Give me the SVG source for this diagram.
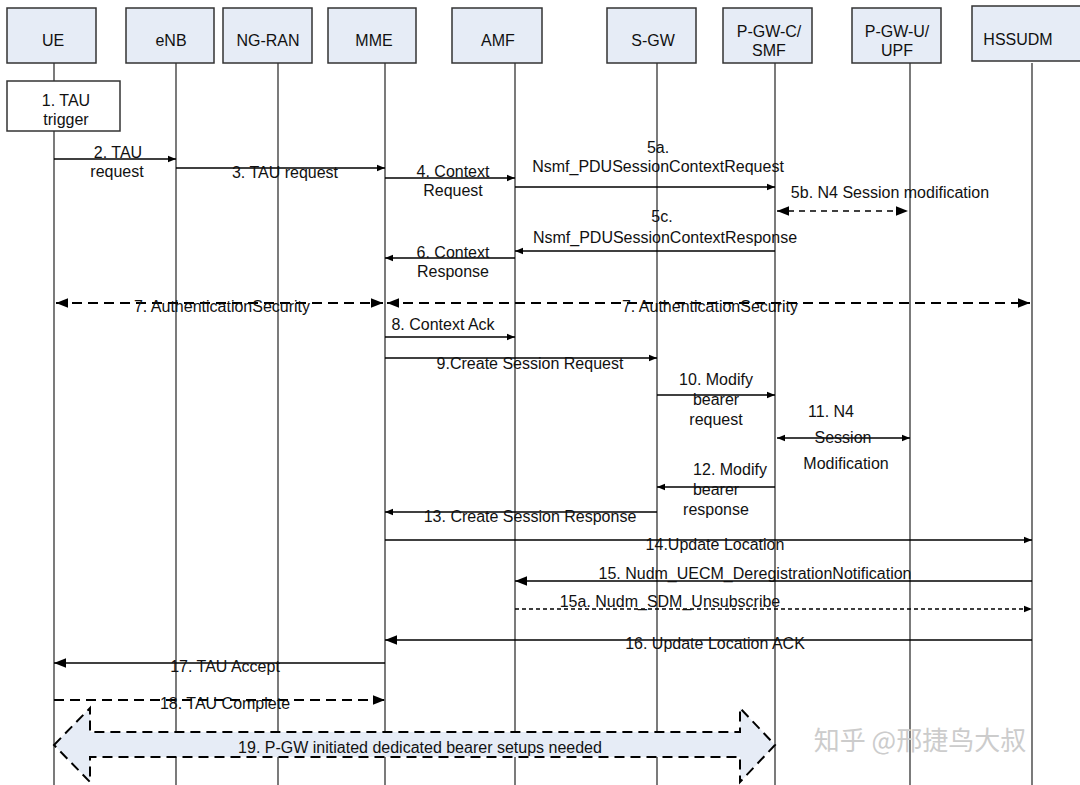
<svg xmlns="http://www.w3.org/2000/svg" width="1080" height="785" viewBox="0 0 1080 785">
<defs>
<marker id="a" viewBox="0 0 10 10" refX="10" refY="5" markerWidth="8" markerHeight="8" orient="auto-start-reverse" markerUnits="userSpaceOnUse"><path d="M0,1L10,5L0,9z" fill="#000"/></marker>
<marker id="b" viewBox="0 0 10 10" refX="10" refY="5" markerWidth="12" markerHeight="12" orient="auto-start-reverse" markerUnits="userSpaceOnUse"><path d="M0,1L10,5L0,9z" fill="#000"/></marker>
</defs>
<style>
text{font-family:"Liberation Sans",Arial,sans-serif;font-size:16px;fill:#111;text-anchor:middle}
.h{fill:#e6ecf6;stroke:#333;stroke-width:1.5}
.l{stroke:#333;stroke-width:1.3}
.m{stroke:#000;stroke-width:1.5;fill:none;marker-end:url(#a)}
.d{stroke:#000;stroke-width:2;fill:none;stroke-dasharray:10 6;marker-end:url(#b);marker-start:url(#b)}
</style>
<rect width="1080" height="785" fill="#fff"/>
<g id="lifelines">
<line class="l" x1="54" y1="63" x2="54" y2="785"/><line class="l" x1="176" y1="63" x2="176" y2="785"/><line class="l" x1="278" y1="63" x2="278" y2="785"/><line class="l" x1="385" y1="63" x2="385" y2="785"/><line class="l" x1="515" y1="63" x2="515" y2="785"/><line class="l" x1="657" y1="63" x2="657" y2="785"/><line class="l" x1="775" y1="63" x2="775" y2="785"/><line class="l" x1="910" y1="63" x2="910" y2="785"/><line class="l" x1="1032" y1="63" x2="1032" y2="785"/>
</g>
<g id="UE"><rect class="h" x="7" y="8" width="89" height="55"/><text x="53" y="46">UE</text></g>
<g id="eNB"><rect class="h" x="126" y="8" width="88" height="55"/><text x="171" y="46">eNB</text></g>
<g id="NGRAN"><rect class="h" x="223" y="8" width="89" height="55"/><text x="268" y="46">NG-RAN</text></g>
<g id="MME"><rect class="h" x="328" y="8" width="88" height="55"/><text x="374" y="46">MME</text></g>
<g id="AMF"><rect class="h" x="452" y="8" width="90" height="55"/><text x="498" y="46">AMF</text></g>
<g id="SGW"><rect class="h" x="607" y="8" width="89" height="55"/><text x="653" y="46">S-GW</text></g>
<g id="SMF"><rect class="h" x="723" y="8" width="89" height="55"/><text x="769" y="37">P-GW-C/</text><text x="769" y="56">SMF</text></g>
<g id="UPF"><rect class="h" x="852" y="8" width="89" height="55"/><text x="897" y="37">P-GW-U/</text><text x="897" y="56">UPF</text></g>
<g id="HSS"><rect class="h" x="972" y="6" width="115" height="55"/><text x="1018" y="45">HSSUDM</text></g>
<g id="trigger"><rect x="7" y="81" width="113" height="50" fill="#fff" stroke="#333" stroke-width="1.5"/><text x="66" y="106">1. TAU</text><text x="66" y="125">trigger</text></g>
<g id="connectors">
<line class="m" x1="54" y1="159" x2="176" y2="159"/>
<line class="m" x1="176" y1="168" x2="385" y2="168"/>
<line class="m" x1="385" y1="178" x2="515" y2="178"/>
<line class="m" x1="515" y1="187" x2="775" y2="187"/>
<line class="d" x1="777" y1="211" x2="908" y2="211" style="stroke-width:1.5;stroke-dasharray:6 5"/>
<line class="m" x1="775" y1="251" x2="515" y2="251"/>
<line class="m" x1="515" y1="258" x2="385" y2="258"/>
<line class="d" x1="56" y1="303" x2="383" y2="303"/>
<line class="d" x1="387" y1="303" x2="1030" y2="303"/>
<line class="m" x1="385" y1="337" x2="515" y2="337"/>
<line class="m" x1="385" y1="358" x2="657" y2="358"/>
<line class="m" x1="657" y1="395" x2="775" y2="395"/>
<line class="m" x1="777" y1="438" x2="910" y2="438" style="marker-start:url(#a)"/>
<line class="m" x1="775" y1="487" x2="657" y2="487"/>
<line class="m" x1="657" y1="512" x2="385" y2="512"/>
<line class="m" x1="385" y1="540" x2="1032" y2="540"/>
<line class="m" x1="1032" y1="581" x2="515" y2="581" style="marker-end:url(#b)"/>
<line class="m" x1="515" y1="609" x2="1032" y2="609" style="stroke-dasharray:4 3"/>
<line class="m" x1="1032" y1="640" x2="385" y2="640" style="marker-end:url(#b)"/>
<line class="m" x1="385" y1="663" x2="54" y2="663" style="marker-end:url(#b)"/>
<line class="d" x1="54" y1="700" x2="385" y2="700" style="marker-start:none"/>
<path d="M54,745L90,708V732H740V708L775,745L740,782V757H90V782Z" fill="#e6ecf6" stroke="#000" stroke-width="2" style="stroke-dasharray:10 6"/>
</g>
<g id="labels">
<text x="118" y="158">2. TAU</text><text x="117" y="177">request</text>
<text x="285" y="178">3. TAU request</text>
<text x="453" y="177">4. Context</text><text x="453" y="196">Request</text>
<text x="658" y="153">5a.</text><text x="658" y="172">Nsmf_PDUSessionContextRequest</text>
<text x="890" y="198">5b. N4 Session modification</text>
<text x="662" y="222">5c.</text><text x="665" y="243">Nsmf_PDUSessionContextResponse</text>
<text x="453" y="258">6. Context</text><text x="453" y="277">Response</text>
<text x="222" y="312">7. AuthenticationSecurity</text>
<text x="710" y="312">7. AuthenticationSecurity</text>
<text x="443" y="330">8. Context Ack</text>
<text x="530" y="369">9.Create Session Request</text>
<text x="716" y="385">10. Modify</text><text x="716" y="405">bearer</text><text x="716" y="425">request</text>
<text x="831" y="417">11. N4</text><text x="843" y="443">Session</text><text x="846" y="469">Modification</text>
<text x="730" y="475">12. Modify</text><text x="716" y="495">bearer</text><text x="716" y="515">response</text>
<text x="530" y="522">13. Create Session Response</text>
<text x="715" y="550">14.Update Location</text>
<text x="755" y="579">15. Nudm_UECM_DeregistrationNotification</text>
<text x="670" y="607">15a. Nudm_SDM_Unsubscribe</text>
<text x="715" y="649">16. Update Location ACK</text>
<text x="225" y="672">17. TAU Accept</text>
<text x="225" y="709">18. TAU Complete</text>
<text x="420" y="753">19. P-GW initiated dedicated bearer setups needed</text>
<text x="920" y="750" style="font-size:26px;fill:#ccc;font-family:'Noto Sans CJK SC',sans-serif">知乎 @邢捷鸟大叔</text>
</g>
</svg>
